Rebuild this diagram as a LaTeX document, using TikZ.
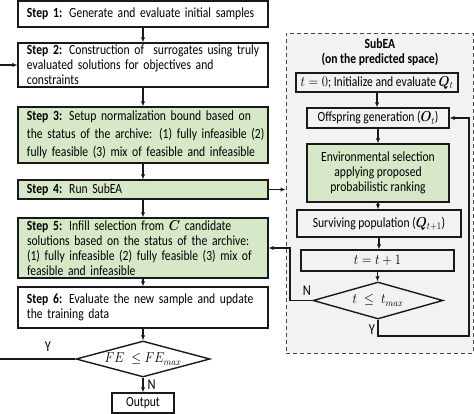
\documentclass[tikz,border=0pt]{standalone}
\usepackage{fontspec}
\setmainfont{Carlito}[FakeStretch=0.83]
\usepackage{amsmath,bm}
\usepackage{graphicx}
\usetikzlibrary{arrows.meta,shapes.geometric}
\definecolor{boxgreen}{RGB}{214,232,200}
\definecolor{subgray}{RGB}{242,242,242}
\definecolor{edge}{RGB}{25,25,25}
\newcommand\mth[1]{\scalebox{0.88}[1]{$#1$}}
\begin{document}
\begin{tikzpicture}[x=1pt,y=-1pt,
  txt/.style={font=\fontsize{14}{15}\selectfont},
  box/.style={draw=edge,line width=1.4pt,rectangle,inner ysep=0pt,txt},
  mainbox/.style={box,fill=white,inner xsep=9pt,text width=232pt,align=left},
  greenbox/.style={mainbox,fill=boxgreen},
  subbox/.style={box,fill=subgray,inner xsep=2pt,align=center},
  decision/.style={draw=edge,line width=1.4pt,diamond,aspect=3.7,inner sep=0pt,txt},
  arr/.style={draw=edge,line width=1.4pt,-{Latex[length=5pt,width=4.5pt]}},
  lbl/.style={font=\fontsize{15}{15}\selectfont,inner sep=1pt}]
\useasboundingbox (0,0) rectangle (474,414);
\fill[white] (0,0) rectangle (474,414);
% SubEA container
\node[draw=edge!80,line width=0.9pt,dash pattern=on 4pt off 3pt,fill=subgray,
  minimum width=187pt,minimum height=320pt,inner sep=0pt] (sub) at (379.5,193) {};
\node[txt,font=\fontsize{14}{15}\selectfont\bfseries,align=center] (title) at (380,52.5)
  {SubEA\\(on the predicted space)};
% main column
\node[mainbox,minimum height=26pt] (s1) at (143,14)
  {\mbox{\textbf{Step 1:} Generate and evaluate initial samples}};
\node[mainbox,minimum height=44pt] (s2) at (143,65)
  {\mbox{\textbf{Step 2:} Construction of\ \ surrogates using truly}\\\mbox{evaluated solutions for objectives and}\\constraints};
\node[greenbox,minimum height=56pt,font=\fontsize{14}{18}\selectfont] (s3) at (143,135)
  {\mbox{\textbf{Step 3:} Setup normalization bound based on}\\\mbox{the status of the archive: (1) fully infeasible (2)}\\\mbox{fully feasible (3) mix of feasible and infeasible}};
\node[greenbox,minimum height=19pt] (s4) at (143,189.5)
  {\textbf{Step 4:} Run SubEA};
\node[greenbox,minimum height=60pt] (s5) at (143,248)
  {\mbox{\textbf{Step 5:} Infill selection from \mth{\bm{C}} candidate}\\\mbox{solutions based on the status of the archive:}\\\mbox{(1) fully infeasible (2) fully feasible (3) mix of}\\\mbox{feasible and infeasible}};
\node[mainbox,minimum height=41pt] (s6) at (143,307.5)
  {\mbox{\textbf{Step 6:} Evaluate the new sample and update}\\\mbox{the training data}};
\node[decision,minimum width=134pt,minimum height=36pt] (d1) at (143,359)
  {\mth{FE\;\leq FE_{max}}};
\node[box,fill=white,minimum width=62pt,minimum height=20pt,inner xsep=2pt] (out) at (143,403) {Output};
% SubEA column
\node[subbox,minimum width=162pt,minimum height=19pt] (t0) at (377,82.5)
  {\mth{t=0}; Initialize and evaluate \mth{\bm{Q}_t}};
\node[subbox,minimum width=142pt,minimum height=20pt] (off) at (378,118)
  {Offspring generation (\mth{\bm{O}_t})};
\node[subbox,fill=boxgreen,minimum width=142pt,minimum height=58pt] (env) at (378,173)
  {Environmental selection\\applying proposed\\probabilistic ranking};
\node[subbox,minimum width=164pt,minimum height=27pt] (surv) at (379,223.5)
  {Surviving population (\mth{\bm{Q}_{t+1}})};
\node[subbox,minimum width=153pt,minimum height=21pt] (tp) at (377.5,260.5)
  {\mth{t=t+1}};
\node[decision,fill=subgray,minimum width=130pt,minimum height=37pt] (d2) at (378,300.5)
  {\mth{t\;\leq\; t_{max}}};
% coordinates for loops
\coordinate (yl) at (-3,0);
\coordinate (nx) at (290,0);
\coordinate (yx) at (469,336);
% main connectors
\draw[arr] (s1) -- (s2);
\draw[arr] (s2) -- (s3);
\draw[arr] (s3) -- (s4);
\draw[arr] (s4) -- (s5);
\draw[arr] (s5) -- (s6);
\draw[arr] (s6) -- (d1);
\draw[arr] (d1) -- node[lbl,right,pos=0.45,xshift=3pt] (nlab1) {N} (out);
\draw[arr] (d1.west) -- (d1.west -| yl) -- (s2.west -| yl) -- (s2.west);
\node[lbl] (ylab1) at (48,347) {Y};
\draw[arr] (s4.east) -- (s4.east -| sub.west);
% SubEA connectors
\draw[arr] (t0) -- (t0 |- off.north);
\draw[arr] (off) -- (off |- env.north);
\draw[arr] (env) -- (env |- surv.north);
\draw[arr] (surv) -- (surv |- tp.north);
\draw[arr] (tp) -- (tp |- d2.north);
\draw[arr] (d2.west) -- (d2.west -| nx) -- (s5.east -| nx) -- (s5.east);
\node[lbl] (nlab2) at (307,291) {N};
\draw[arr] (d2.south) -- (d2.south |- yx) -- (yx) -- (yx |- off.east) -- (off.east);
\node[lbl] (ylab2) at (372,330) {Y};
\end{tikzpicture}
\end{document}
